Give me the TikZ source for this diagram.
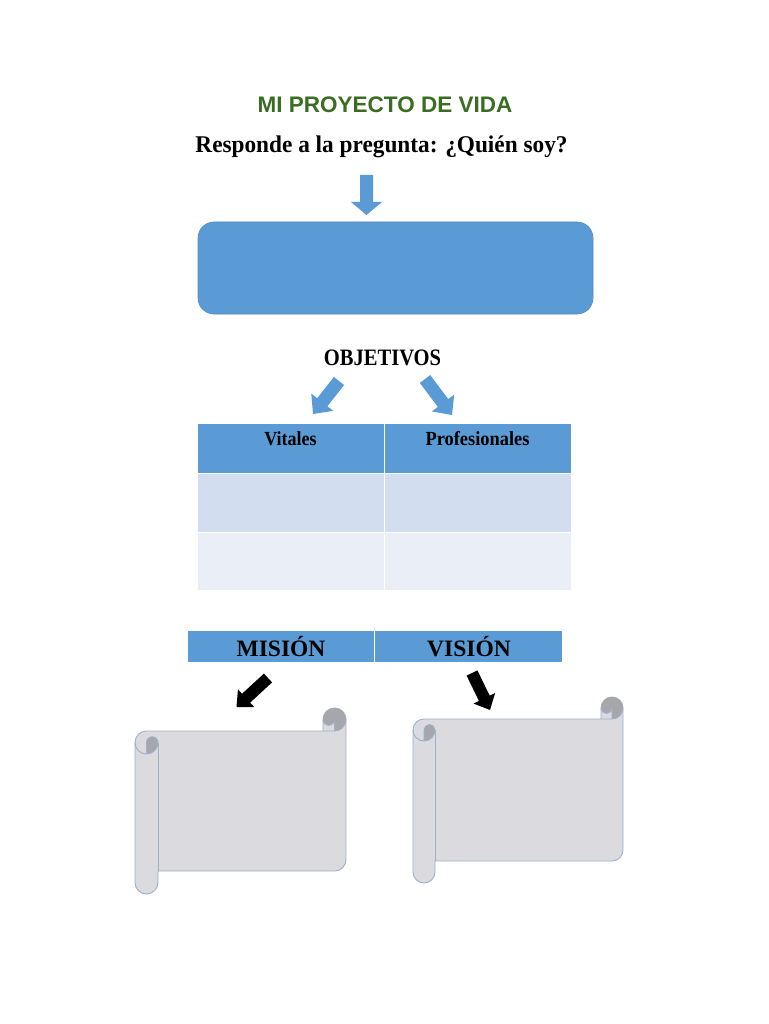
\documentclass[tikz,border=0pt]{standalone}
\usepackage{graphicx}
\usepackage{fontspec}
\setmainfont{Liberation Serif}
\newfontfamily\titlesans{Liberation Sans}
\usetikzlibrary{calc}
\definecolor{blueA}{HTML}{5B9BD5}
\definecolor{rowA}{HTML}{D2DEEF}
\definecolor{rowB}{HTML}{EAEFF7}
\definecolor{titlegreen}{RGB}{58,108,34}
\definecolor{paper}{HTML}{DBDADE}
\definecolor{curlgray}{HTML}{A7A7AB}
\definecolor{scrolledge}{HTML}{9CB2CC}

\newcommand{\blockarrow}[6]{%
  \coordinate (hb) at ($(#2)!#5!(#1)$);
  \fill[#6] ($(#1)!#3!90:(#2)$) -- ($(hb)!#3!90:(#2)$) -- ($(hb)!#4!90:(#2)$) -- (#2)
    -- ($(hb)!#4!-90:(#2)$) -- ($(hb)!#3!-90:(#2)$) -- ($(#1)!#3!-90:(#2)$) -- cycle;
}

\newcommand{\drawscroll}[5]{%
  \pgfmathsetmacro{\scL}{#1}\pgfmathsetmacro{\scT}{#2}\pgfmathsetmacro{\scR}{#3}\pgfmathsetmacro{\scB}{#4}%
  \pgfmathsetmacro{\scH}{#5/2}\pgfmathsetmacro{\scQ}{#5/4}%
  \pgfmathsetmacro{\xA}{#1+#5}\pgfmathsetmacro{\xB}{#1+#5/2}%
  \pgfmathsetmacro{\xC}{#3-#5}\pgfmathsetmacro{\xD}{#3-#5/2}%
  \pgfmathsetmacro{\yA}{#2+#5/2}\pgfmathsetmacro{\yB}{#2+#5}\pgfmathsetmacro{\yC}{#2+1.5*#5}\pgfmathsetmacro{\yD}{#2+2*#5}%
  \pgfmathsetmacro{\yE}{#4-#5}\pgfmathsetmacro{\yF}{#4-#5/2}\pgfmathsetmacro{\yG}{#4-1.5*#5}%
  \path[scrollbody] (\scR,\yA) -- (\scR,\yG) arc[start angle=0,end angle=90,radius=\scH]
    -- (\xA,\yE) -- (\xA,\yF) arc[start angle=0,end angle=180,radius=\scH]
    -- (\scL,\yC) arc[start angle=180,end angle=270,radius=\scH]
    -- (\xC,\yB) -- (\xC,\yA) arc[start angle=180,end angle=360,radius=\scH] -- cycle;
  \fill[curlgray] (\xB,\yD) arc[start angle=90,end angle=0,radius=\scH]
    arc[start angle=0,end angle=-180,radius=\scQ] -- cycle;
  \fill[curlgray] (\xD,\yB) arc[start angle=90,end angle=-180,radius=\scH]
    arc[start angle=180,end angle=0,radius=\scQ] -- cycle;
  \draw[scrollline] (\xA,\yC) -- (\xA,\yE);
  \draw[scrollline] (\xB,\yD) -- (\xB,\yC) arc[start angle=180,end angle=360,radius=\scQ]
    arc[start angle=0,end angle=180,radius=\scH];
  \draw[scrollline] (\xC,\yB) -- (\xD,\yB) arc[start angle=90,end angle=0,radius=\scH];
  \draw[scrollline] (\xD,\yB) -- (\xD,\yA) arc[start angle=0,end angle=180,radius=\scQ];
}

\begin{document}
\begin{tikzpicture}[x=1pt,y=1pt,yscale=-1,
  titletext/.style={font=\titlesans\fontsize{22.5}{22.5}\selectfont\bfseries, text=titlegreen, inner sep=0pt},
  bigtext/.style={font=\fontsize{24}{24}\selectfont\bfseries, inner sep=0pt},
  midtext/.style={font=\fontsize{23.5}{23.5}\selectfont\bfseries, inner sep=0pt},
  celltext/.style={font=\fontsize{20}{20}\selectfont\bfseries, inner sep=0pt},
  bluebox/.style={fill=blueA, draw=blueA!90!black, line width=0.6pt, rounded corners=16pt,
    minimum width=395pt, minimum height=92pt, inner sep=0pt},
  cell/.style={draw=white, line width=0.8pt, inner sep=0pt},
  scrollbody/.style={fill=paper, draw=scrolledge, line width=0.9pt, line join=round},
  scrollline/.style={draw=scrolledge, line width=0.9pt},
]
\useasboundingbox (0,0) rectangle (768,1024);
\fill[white] (0,0) rectangle (768,1024);

% title and question
\node[titletext, anchor=base] (title) at (385,113) {MI PROYECTO DE VIDA};
\node[bigtext, anchor=base] (question) at (381.5,153) {\scalebox{0.97}[1]{Responde a la pregunta: ¿Quién soy?}};

% down arrow and answer box
\coordinate (qa1) at (366.5,175);
\coordinate (qa2) at (366.5,215);
\blockarrow{qa1}{qa2}{6.5pt}{15.5pt}{13pt}{blueA}
\node[bluebox] (answer) at (395.5,268) {};

% objetivos
\node[midtext, anchor=base] (obj) at (382.5,365) {\scalebox{0.875}[1]{OBJETIVOS}};
\coordinate (oa1) at (339,381);
\coordinate (oa2) at (313,414);
\blockarrow{oa1}{oa2}{6.5pt}{14pt}{15pt}{blueA}
\coordinate (ob1) at (425,379);
\coordinate (ob2) at (452,415);
\blockarrow{ob1}{ob2}{6.5pt}{14pt}{15pt}{blueA}

% table
\node[cell, fill=blueA, minimum width=187pt, minimum height=50pt] (h1) at (290.5,448) {};
\node[cell, fill=blueA, minimum width=187pt, minimum height=50pt] (h2) at (477.5,448) {};
\node[cell, fill=rowA, minimum width=187pt, minimum height=59pt] (r11) at (290.5,502.5) {};
\node[cell, fill=rowA, minimum width=187pt, minimum height=59pt] (r12) at (477.5,502.5) {};
\node[cell, fill=rowB, minimum width=187pt, minimum height=58pt] (r21) at (290.5,561) {};
\node[cell, fill=rowB, minimum width=187pt, minimum height=58pt] (r22) at (477.5,561) {};
\node[celltext, anchor=base] (vit) at (290.5,445) {\scalebox{0.9}[1]{Vitales}};
\node[celltext, anchor=base] (prof) at (477.5,445) {\scalebox{0.92}[1]{Profesionales}};

% mision / vision bar
\node[cell, fill=blueA, minimum width=187pt, minimum height=32pt] (mis) at (280.5,646) {};
\node[cell, fill=blueA, minimum width=188pt, minimum height=32pt] (vis) at (468,646) {};
\node[midtext, anchor=base] (mist) at (281,656) {MISIÓN};
\node[midtext, anchor=base] (vist) at (469,656) {VISIÓN};

% black arrows
\coordinate (ma1) at (268,678);
\coordinate (ma2) at (236.5,707);
\blockarrow{ma1}{ma2}{6pt}{12pt}{13pt}{black}
\coordinate (va1) at (472,673);
\coordinate (va2) at (490,710);
\blockarrow{va1}{va2}{6pt}{12pt}{13pt}{black}

% scrolls
\drawscroll{135}{708}{346}{894}{23}
\drawscroll{413}{697}{623}{883}{22}
\end{tikzpicture}
\end{document}
